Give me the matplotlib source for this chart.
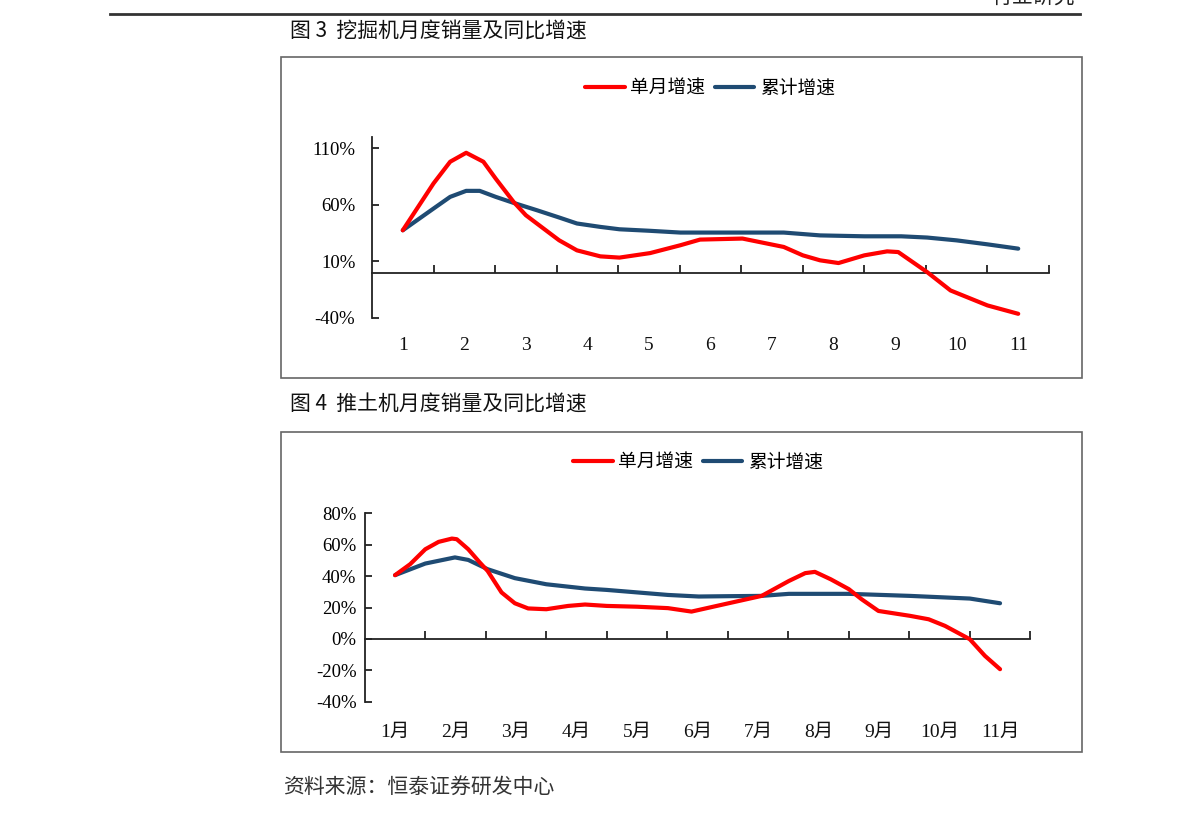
import numpy as np
import matplotlib
matplotlib.use("Agg")
import matplotlib.pyplot as plt
from matplotlib.patches import Rectangle
from matplotlib.lines import Line2D
import matplotlib.transforms as mtransforms

plt.rcParams['font.family'] = ['Liberation Serif', 'Noto Sans CJK SC', 'DejaVu Sans']

# ---------------- data (month position, growth %) ----------------
excavator_labels = ['1', '2', '3', '4', '5', '6', '7', '8', '9', '10', '11']
excavator_monthly_x = [1.0, 1.5, 1.77, 2.03, 2.31, 2.51, 2.8, 3.0, 3.54, 3.83, 4.21, 4.52,
                       5.02, 5.51, 5.83, 6.52, 7.19, 7.5, 7.78, 8.08, 8.5, 8.87, 9.05,
                       9.52, 9.9, 10.5, 11.0]
excavator_monthly = [37.4, 78.8, 97.9, 105.8, 97.9, 83, 62.5, 50.7, 28.6, 19.7, 14.4, 13.3,
                     17.3, 24.2, 29.2, 30.1, 22.7, 15.3, 10.9, 8.5, 15.3, 18.8, 18.2,
                     0.5, -15.7, -28.9, -36.3]
excavator_cum_x = [1.0, 1.5, 1.77, 2.03, 2.25, 2.51, 2.8, 3.18, 3.54, 3.83, 4.21, 4.52,
                   5.0, 5.51, 6.52, 7.19, 7.78, 8.5, 9.1, 9.52, 10.0, 10.5, 11.0]
excavator_cumulative = [37.4, 56.6, 66.9, 72.2, 72.2, 66.9, 61.6, 55.1, 48.7, 43.4, 40.4, 38.3,
                        37, 35.4, 35.4, 35.4, 32.9, 32.1, 32.1, 31, 28.5, 25, 21.2]

dozer_labels = ['1月', '2月', '3月', '4月', '5月', '6月', '7月', '8月', '9月', '10月', '11月']
dozer_monthly_x = [1.0, 1.25, 1.5, 1.72, 1.94, 2.02, 2.21, 2.4, 2.53, 2.76, 2.98, 3.2, 3.5,
                   3.86, 4.14, 4.5, 5.0, 5.51, 5.9, 6.49, 7.06, 7.51, 7.78, 7.94, 8.2,
                   8.5, 8.71, 8.99, 9.51, 9.82, 10.09, 10.5, 10.75, 11.0]
dozer_monthly = [40.6, 47.6, 57.1, 61.8, 63.9, 63.5, 57.1, 48.7, 43.3, 29.6, 22.7, 19.4, 18.9,
                 21, 21.9, 21, 20.5, 19.6, 17.4, 22.5, 27.4, 36.9, 41.9, 42.7, 38,
                 31.7, 25.3, 17.8, 14.7, 12.5, 8.3, -0.2, -10.8, -19.3]
dozer_cum_x = [1.0, 1.5, 1.99, 2.21, 2.53, 2.98, 3.5, 4.14, 4.5, 5.51, 6.02, 6.49, 7.06,
               7.51, 8.5, 9.51, 10.5, 11.0]
dozer_cumulative = [40.6, 48, 51.9, 50.3, 44.4, 38.7, 34.8, 32.1, 31.2, 28, 27, 27.2, 27.4,
                    28.7, 28.7, 27.4, 25.7, 22.7]

series_names = ['单月增速', '累计增速']
title_1 = '图 3  挖掘机月度销量及同比增速'
title_2 = '图 4  推土机月度销量及同比增速'
source_text = '资料来源：恒泰证券研发中心'
header_text = '行业研究'

RED = '#FF0000'
BLUE = '#1F4B73'
W, H = 1191, 817

fig = plt.figure(figsize=(W / 100, H / 100), dpi=100)
fig.patch.set_facecolor('white')


def fx(px):
    return px / W


def fy(py):
    return 1 - py / H


cjk = ['Noto Sans CJK SC', 'DejaVu Sans']
serif_cjk = ['Liberation Serif', 'Noto Sans CJK SC']

# header line and cut-off header text (as in the page snippet)
fig.add_artist(Line2D([fx(110), fx(1080)], [fy(14), fy(14)], color='#333333', lw=2))
fig.text(fx(1075), fy(9), header_text, ha='right', va='bottom', fontsize=15,
         family=cjk, color='#222222')

# titles and source
fig.text(fx(290), fy(31), title_1, ha='left', va='center', fontsize=15, family=cjk, color='#111111')
fig.text(fx(290), fy(405), title_2, ha='left', va='center', fontsize=15, family=cjk, color='#111111')
fig.text(fx(283), fy(787), source_text, ha='left', va='center', fontsize=15, family=cjk,
         color='#333333')

# frames
for (x0, y0, x1, y1) in [(281, 57, 1082, 378), (281, 432, 1082, 752)]:
    fig.add_artist(Rectangle((fx(x0), fy(y1)), fx(x1) - fx(x0), fy(y0) - fy(y1),
                             transform=fig.transFigure, fill=False,
                             edgecolor='#666666', lw=1.2))


def make_chart(rect, labels, mx, monthly, cx, cumulative, ylim, yticks, ypad, label_offset,
               legend_xy):
    ax = fig.add_axes(rect)
    ax.set_facecolor('none')
    l1, = ax.plot(mx, monthly, color=RED, lw=3, solid_capstyle='round',
                  solid_joinstyle='round', zorder=3)
    l2, = ax.plot(cx, cumulative, color=BLUE, lw=3, solid_capstyle='round',
                  solid_joinstyle='round', zorder=2)
    ax.set_xlim(0.5, len(labels) + 0.5)
    ax.set_ylim(*ylim)
    for s in ['top', 'right']:
        ax.spines[s].set_visible(False)
    ax.spines['bottom'].set_position(('data', 0))
    ax.spines['left'].set_bounds(ylim[0], ylim[1])
    for s in ['bottom', 'left']:
        ax.spines[s].set_color('#222222')
        ax.spines[s].set_linewidth(1.3)
    ax.set_xticks(np.arange(1.5, len(labels) + 0.51, 1))
    ax.set_xticklabels([])
    ax.tick_params(axis='x', direction='in', length=6, width=1.3, color='#222222')
    ax.set_yticks(yticks)
    ax.set_yticklabels([f'{v}%' for v in yticks])
    ax.tick_params(axis='y', direction='in', length=5, width=1.3, color='#222222',
                   pad=ypad, labelsize=13.5)
    for lab in ax.get_yticklabels():
        lab.set_family(serif_cjk)
    trans = mtransforms.blended_transform_factory(ax.transData, ax.transAxes)
    for i, lab in enumerate(labels):
        ax.text(i + 1, label_offset, lab, transform=trans, ha='center', va='center',
                fontsize=14, family=serif_cjk, color='#111111')
    fig.legend([l1, l2], series_names, loc='center', bbox_to_anchor=legend_xy,
               ncol=2, frameon=False, prop={'family': cjk, 'size': 13.5},
               handlelength=2.1, handletextpad=0.3, columnspacing=0.5,
               borderpad=0, borderaxespad=0)
    return ax


# chart 1: x 372..1049 px, y -40 at 318 px, 120 at 136.7 px
r1 = [fx(372), fy(318), fx(1049) - fx(372), fy(136.7) - fy(318)]
make_chart(r1, excavator_labels, excavator_monthly_x, excavator_monthly,
           excavator_cum_x, excavator_cumulative,
           (-40, 120), [-40, 10, 60, 110], 12, -28 / (318 - 136.7), (fx(710), fy(88)))

# chart 2: x 364.8..1030.3 px, y -40 at 701.7 px, 80 at 513.3 px
r2 = [fx(364.8), fy(701.7), fx(1030.3) - fx(364.8), fy(513.3) - fy(701.7)]
make_chart(r2, dozer_labels, dozer_monthly_x, dozer_monthly, dozer_cum_x, dozer_cumulative,
           (-40, 80), [-40, -20, 0, 20, 40, 60, 80], 6, -31 / (701.7 - 513.3),
           (fx(698), fy(462)))

fig.savefig('out.png', dpi=100, facecolor='white')
